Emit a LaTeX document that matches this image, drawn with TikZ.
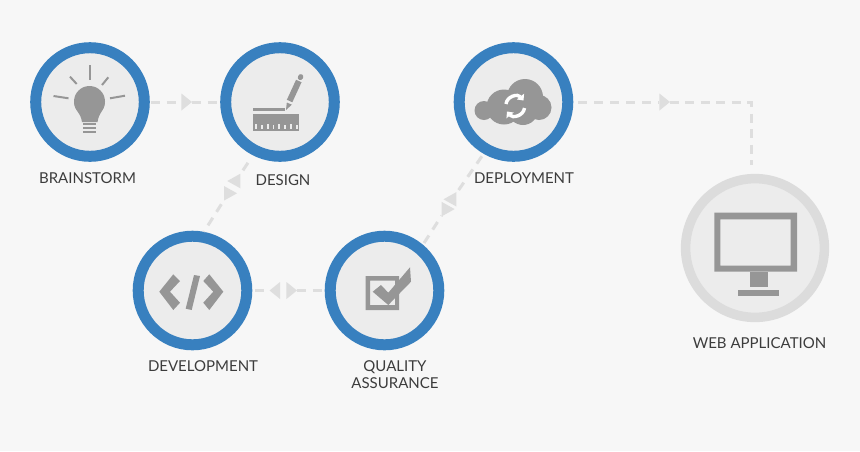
\documentclass[tikz,border=0pt]{standalone}
\usepackage{fontspec}
\setmainfont{Lato}
\usetikzlibrary{shapes.geometric,arrows.meta}
\definecolor{pagebg}{HTML}{F7F7F7}
\definecolor{ringblue}{HTML}{3880BF}
\definecolor{ringgrey}{HTML}{DCDCDC}
\definecolor{discfill}{HTML}{ECECEC}
\definecolor{icongrey}{HTML}{969696}
\definecolor{linkgrey}{HTML}{DEDEDE}
\definecolor{labeltext}{HTML}{3C3C3C}
\tikzset{
  ring/.style={circle,draw=ringblue,fill=discfill,line width=11pt,minimum size=108.6pt,inner sep=0},
  webring/.style={circle,draw=ringgrey,fill=discfill,line width=9.5pt,minimum size=138.8pt,inner sep=0},
  tag/.style={text=labeltext,font=\fontsize{15}{17}\selectfont,align=center,inner sep=0},
  link/.style={draw=linkgrey,line width=3pt,dash pattern=on 9pt off 7pt},
  tip/.style={isosceles triangle,isosceles triangle stretches,fill=linkgrey,inner sep=0,outer sep=0,minimum height=10.5pt,minimum width=17pt},
  sidetip/.style={isosceles triangle,isosceles triangle stretches,fill=linkgrey,inner sep=0,outer sep=0,minimum height=13pt,minimum width=14.5pt},
  icon/.style={fill=icongrey},
  rayline/.style={draw=icongrey,line width=2pt},
  refresh/.style={draw=white,line width=3.4pt}
}
\begin{document}
\begin{tikzpicture}[x=1pt,y=-1pt]

\useasboundingbox (0,0) rectangle (860,451);
\fill [pagebg] (0,0) rectangle (860,451);

\node (brainstorm) at (90,102) [ring] {};
\node (design) at (280,102) [ring] {};
\node (deployment) at (513.5,102) [ring] {};
\node (development) at (192.5,290.5) [ring] {};
\node (quality) at (384.5,290.5) [ring] {};
\node (webapp) at (755,248) [webring] {};

\node (brainstormtag) at (87.5,178.5) [tag] {BRAINSTORM};
\node (designtag) at (283,180.5) [tag] {DESIGN};
\node (deploymenttag) at (524,178.5) [tag] {DEPLOYMENT};
\node (developmenttag) at (203,366.5) [tag] {DEVELOPMENT};
\node (qualitytag) at (395,375) [tag] {QUALITY\\ASSURANCE};
\node (webapptag) at (759.5,343) [tag] {WEB APPLICATION};

\node (tipa) at (185.5,102) [tip] {};
\node (tipb) at (236,181) [sidetip,shape border rotate=180] {};
\node (tipc) at (228.3,193.3) [sidetip,shape border rotate=-4] {};
\node (tipd) at (276,290.5) [tip,shape border rotate=180] {};
\node (tipe) at (290.5,290.5) [tip] {};
\node (tipf) at (452.2,199.3) [sidetip,shape border rotate=190] {};
\node (tipg) at (445.9,209.1) [sidetip,shape border rotate=-8] {};
\node (tiph) at (663.5,102) [tip] {};

\draw [link,shorten <=1pt] (brainstorm.east) -- (tipa);
\draw [link,shorten >=1pt] (tipa) -- (design.west);
\draw [link,shorten <=9pt] (design.243) -- (tipb);
\draw [link,shorten <=5pt] (tipc) -- (development.79);
\draw [link,shorten <=3pt] (development.east) -- (tipd);
\draw [link,shorten >=1pt] (tipe) -- (quality.west);
\draw [link,shorten <=3pt] (deployment.240) -- (tipf);
\draw [link,shorten <=2pt] (quality.50) -- (tipg);
\draw [link,shorten <=5pt] (deployment.east) -- (tiph);
\draw [link,dash pattern=on 9pt off 6.5pt,shorten >=9pt] (tiph) -| (webapp.93);

\draw [rayline] (90,65) -- (90,80);
\draw [rayline] (70,76.7) -- (76.7,84);
\draw [rayline] (108.3,77.3) -- (102,85);
\draw [rayline] (53.5,96) -- (68.5,98.3);
\draw [rayline] (110,98.3) -- (125,95.7);
\fill [icon] (89.5,101.5) circle [radius=15.5pt];
\fill [icon] (74.2,103) .. controls (75,111) and (80.5,112) .. (82,122) -- (97.5,122) .. controls (99,112) and (104,111) .. (104.8,103) -- cycle;
\foreach \yb in {124,128,131.5}
  \fill [icon] (83,\yb-1) rectangle (95.5,\yb+1);

\fill [icon] (253.3,107.5) rectangle (285,110.7);
\fill [icon] (286,110) -- (286.8,102.5) -- (291.8,104.7) -- cycle;
\draw [draw=icongrey,line width=6pt] (289.6,101) -- (298.8,81);
\draw [draw=icongrey,line width=5pt,line cap=round] (300.3,77.6) -- (300.8,76.6);
\fill [icon] (253.3,114.3) rectangle (299.3,130.7);
\foreach \xt/\yt in {256/123.5,261.8/125,267.6/123.5,273.4/125,279.2/123.5,285/125,290.8/123.5,296.6/125}
  \fill [discfill] (\xt-0.9,\yt) rectangle (\xt+0.9,128.5);

\fill [icon] (484,110.5) circle [radius=9.5pt];
\fill [icon] (504,107) circle [radius=17.5pt];
\fill [icon] (525,97) circle [radius=18pt];
\fill [icon] (539,107.5) circle [radius=12.5pt];
\fill [icon] (523,110) circle [radius=15pt];
\draw [refresh,-{Triangle[length=5pt,width=9pt]}] (506,104) .. controls (507,96) and (518,93.5) .. (523.5,100.5);
\draw [refresh,-{Triangle[length=5pt,width=9pt]}] (524.5,108) .. controls (523.5,116) and (512.5,118.5) .. (507,111.5);

\fill [icon] (159.3,291.7) -- (173.3,274.3) -- (180,281) -- (170,291.7) -- (180,302.7) -- (173.3,310) -- cycle;
\fill [icon] (223.3,291.7) -- (209.3,274.3) -- (203.3,281) -- (213.3,291.7) -- (203.3,302.7) -- (209.3,310) -- cycle;
\fill [icon] (194,275) -- (200,276) -- (191.7,310) -- (185.7,308.7) -- cycle;

\fill [icon,even odd rule] (365.7,276) rectangle (399,310) (370,280.7) rectangle (395,305);
\fill [icon] (372.7,291.7) -- (381,285) -- (388.3,292.7) -- (410,267.3) -- (411,281.7) -- (388.3,305) -- cycle;

\fill [icon,even odd rule] (714.3,212.7) rectangle (797,271.7) (720.3,219.3) rectangle (790.7,265.7);
\fill [icon] (750,271.7) rectangle (768,286.7);
\fill [icon] (737.7,290.3) rectangle (779,296);

\end{tikzpicture}
\end{document}
